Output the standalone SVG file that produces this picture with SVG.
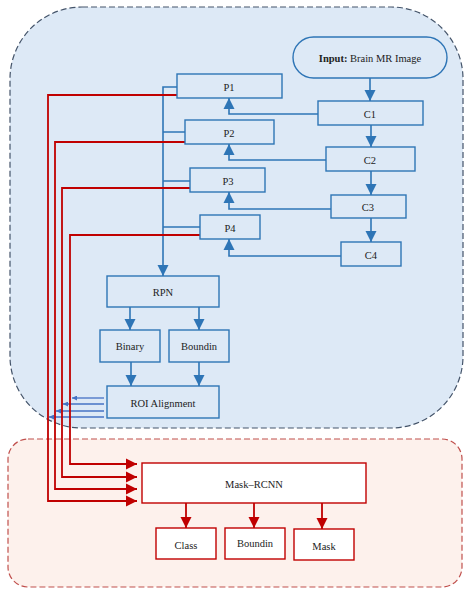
<svg xmlns="http://www.w3.org/2000/svg" width="474" height="594" viewBox="0 0 474 594">
<defs>
<style>
text{font-family:"Liberation Serif","DejaVu Serif",serif;font-size:10.5px;fill:#222;text-anchor:middle;dominant-baseline:central}
.b{fill:#dde9f6;stroke:#2e75b6;stroke-width:1.4}
.r{fill:#fff;stroke:#c00000;stroke-width:1.4}
.bl{fill:none;stroke:#2e75b6;stroke-width:1.6}
.rl{fill:none;stroke:#c00000;stroke-width:1.8}
.bt{fill:none;stroke:#4472c4;stroke-width:1.3}
</style>
<marker id="ab" viewBox="0 0 10 10" refX="10" refY="5" markerWidth="7" markerHeight="6.5" markerUnits="userSpaceOnUse" orient="auto"><path d="M0,0L10,5L0,10Z" fill="#2e75b6"/></marker>
<marker id="abL" viewBox="0 0 10 10" refX="10" refY="5" markerWidth="11" markerHeight="12" markerUnits="userSpaceOnUse" orient="auto"><path d="M0,0L10,5L0,10Z" fill="#2e75b6"/></marker>
<marker id="abs" viewBox="0 0 10 10" refX="10" refY="5" markerWidth="6" markerHeight="5" markerUnits="userSpaceOnUse" orient="auto"><path d="M0,0L10,5L0,10Z" fill="#4472c4"/></marker>
<marker id="ar" viewBox="0 0 10 10" refX="10" refY="5" markerWidth="11" markerHeight="12" markerUnits="userSpaceOnUse" orient="auto"><path d="M0,0L10,5L0,10Z" fill="#c00000"/></marker>
</defs>
<g id="containers">
<rect x="10" y="7" width="453" height="421" rx="72" ry="72" fill="#dde9f6" stroke="#44546a" stroke-width="1.2" stroke-dasharray="6,3"/>
<rect x="8" y="439" width="454" height="148" rx="20" ry="20" fill="#fdf1ec" stroke="#c0504d" stroke-width="1.2" stroke-dasharray="6,3"/>
</g>
<g id="connectors">
<path class="bl" d="M370,78V101" marker-end="url(#abL)"/>
<path class="bl" d="M371,125V147" marker-end="url(#abL)"/>
<path class="bl" d="M371,171V195" marker-end="url(#abL)"/>
<path class="bl" d="M371,218V242" marker-end="url(#abL)"/>
<path class="bl" d="M318,114H229V98" marker-end="url(#abL)"/>
<path class="bl" d="M326,160H229V144" marker-end="url(#abL)"/>
<path class="bl" d="M331,209H229V192" marker-end="url(#abL)"/>
<path class="bl" d="M341,256H229V239" marker-end="url(#abL)"/>
<path class="bl" d="M177,87H163V276" marker-end="url(#abL)"/>
<path class="bl" d="M163,132H185M163,181H190M163,227H200"/>
<path class="bl" d="M130,307V330" marker-end="url(#abL)"/>
<path class="bl" d="M199,307V330" marker-end="url(#abL)"/>
<path class="bl" d="M131,362V386" marker-end="url(#abL)"/>
<path class="bl" d="M199,362V386" marker-end="url(#abL)"/>
<path class="bt" d="M104,398H72" marker-end="url(#abs)"/>
<path class="bt" d="M104,404H63" marker-end="url(#abs)"/>
<path class="bt" d="M104,411H56" marker-end="url(#abs)"/>
<path class="bt" d="M104,417H49" marker-end="url(#abs)"/>
<path class="rl" d="M177,95H48V501H137" marker-end="url(#ar)"/>
<path class="rl" d="M185,142H55V489H137" marker-end="url(#ar)"/>
<path class="rl" d="M190,188H62V477H137" marker-end="url(#ar)"/>
<path class="rl" d="M200,235H70V464H137" marker-end="url(#ar)"/>
<path class="rl" d="M186,503V528" marker-end="url(#ar)"/>
<path class="rl" d="M254,503V528" marker-end="url(#ar)"/>
<path class="rl" d="M322,503V529" marker-end="url(#ar)"/>
</g>
<g id="input"><rect class="b" x="293" y="37" width="154" height="41" rx="20.5"/><text x="370" y="58"><tspan font-weight="bold">Input:</tspan> Brain MR Image</text></g>
<g id="P1"><rect class="b" x="177" y="74" width="105" height="24"/><text x="229" y="87">P1</text></g>
<g id="P2"><rect class="b" x="185" y="120" width="89" height="24"/><text x="229" y="133">P2</text></g>
<g id="P3"><rect class="b" x="190" y="168" width="75" height="24"/><text x="228" y="181">P3</text></g>
<g id="P4"><rect class="b" x="200" y="215" width="60" height="24"/><text x="230" y="228">P4</text></g>
<g id="C1"><rect class="b" x="318" y="101" width="105" height="24"/><text x="370" y="114">C1</text></g>
<g id="C2"><rect class="b" x="326" y="147" width="89" height="24"/><text x="370" y="160">C2</text></g>
<g id="C3"><rect class="b" x="331" y="195" width="75" height="23"/><text x="368" y="207">C3</text></g>
<g id="C4"><rect class="b" x="341" y="242" width="60" height="24"/><text x="371" y="255">C4</text></g>
<g id="RPN"><rect class="b" x="107" y="276" width="112" height="31"/><text x="163" y="292">RPN</text></g>
<g id="Binary"><rect class="b" x="100" y="330" width="60" height="32"/><text x="130" y="346">Binary</text></g>
<g id="Boundin1"><rect class="b" x="169" y="330" width="60" height="32"/><text x="199" y="346">Boundin</text></g>
<g id="ROI"><rect class="b" x="107" y="386" width="112" height="32"/><text x="163" y="403">ROI Alignment</text></g>
<g id="MaskRCNN"><rect class="r" x="142" y="463" width="224" height="40"/><text x="254" y="484">Mask–RCNN</text></g>
<g id="Class"><rect class="r" x="156" y="528" width="60" height="31"/><text x="186" y="545">Class</text></g>
<g id="Boundin2"><rect class="r" x="225" y="528" width="60" height="31"/><text x="255" y="543">Boundin</text></g>
<g id="Mask"><rect class="r" x="294" y="529" width="60" height="31"/><text x="324" y="546">Mask</text></g>
</svg>
